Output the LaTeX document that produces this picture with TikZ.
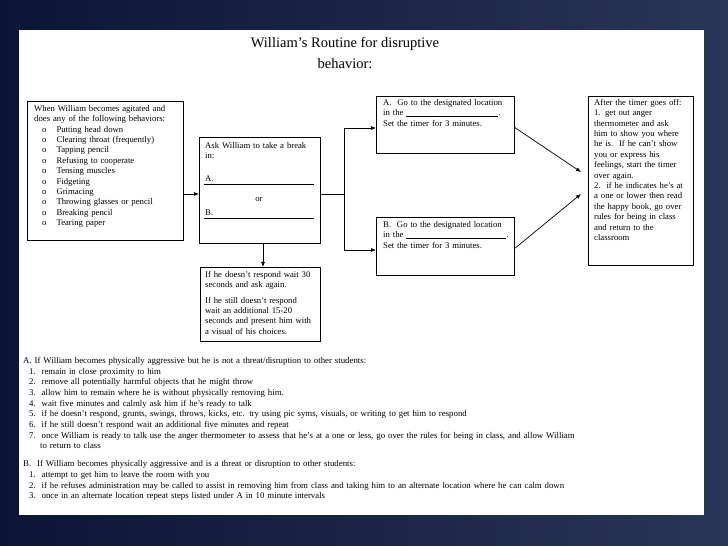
\documentclass[tikz,border=0pt]{standalone}
\usepackage{fontspec}
\setmainfont{Liberation Serif}
\usetikzlibrary{arrows.meta}
\definecolor{bgA}{HTML}{0B1535}
\definecolor{bgB}{HTML}{2A3656}
\begin{document}
\begin{tikzpicture}[x=1pt,y=1pt,
  box/.style={draw,line width=0.8pt,anchor=north west,inner sep=0pt},
  txt/.style={anchor=north west,inner sep=0pt,align=left,font=\fontsize{8.7}{10.4}\selectfont},
  arr/.style={-{Latex[length=5pt,width=4pt]},line width=0.7pt}]
\useasboundingbox (0,0) rectangle (728,546);
\shade[left color=bgA,right color=bgB] (0,0) rectangle (728,546);
\fill[white] (19,31) rectangle (704,516);
\node[font=\fontsize{14.5}{21}\selectfont,align=center] (title) at (345,493) {William’s Routine for disruptive\\behavior:};
% left box
\node[box,minimum width=156,minimum height=139] (L) at (27,445) {};
\node[txt,text width=152] (Lt) at (34,441) {When William becomes agitated and\\does any of the following behaviors:\\
\hspace*{8pt}o\hspace{10pt}Putting head down\\
\hspace*{8pt}o\hspace{10pt}Clearing throat (frequently)\\
\hspace*{8pt}o\hspace{10pt}Tapping pencil\\
\hspace*{8pt}o\hspace{10pt}Refusing to cooperate\\
\hspace*{8pt}o\hspace{10pt}Tensing muscles\\
\hspace*{8pt}o\hspace{10pt}Fidgeting\\
\hspace*{8pt}o\hspace{10pt}Grimacing\\
\hspace*{8pt}o\hspace{10pt}Throwing glasses or pencil\\
\hspace*{8pt}o\hspace{10pt}Breaking pencil\\
\hspace*{8pt}o\hspace{10pt}Tearing paper};
% ask box
\node[box,minimum width=121,minimum height=106] (K) at (199,409) {};
\node[txt,text width=114] (Kt) at (205,404) {Ask William to take a break\\in:};
\node[txt] (Ka) at (205,370) {A.};
\node[txt] (Kb) at (205,336) {B.};
\node[font=\fontsize{8.7}{10}\selectfont] (Kor) at (259,347) {or};
\coordinate (la1) at (204,362); \coordinate (la2) at (314,362);
\coordinate (lb1) at (204,328); \coordinate (lb2) at (314,328);
\draw[line width=0.6pt] (la1) -- (la2);
\draw[line width=0.6pt] (lb1) -- (lb2);
% wait box
\node[box,minimum width=120,minimum height=74] (W) at (200,279) {};
\node[txt,text width=117] (Wt) at (205,275) {If he doesn’t respond wait 30\\seconds and ask again.\\[5pt]If he still doesn’t respond\\wait an additional 15-20\\seconds and present him with\\a visual of his choices.};
% A, B boxes
\node[box,minimum width=138,minimum height=57] (A) at (376,450) {};
\node[txt,text width=134] (At) at (383,447) {A.\ \ Go to the designated location\\in the \rule[-1pt]{92pt}{0.4pt}.\\Set the timer for 3 minutes.};
\node[box,minimum width=138,minimum height=58] (B) at (376,329) {};
\node[txt,text width=134] (Bt) at (383,325) {B.\ \ Go to the designated location\\in the \rule[-1pt]{100pt}{0.4pt}.\\Set the timer for 3 minutes.};
% after box
\node[box,minimum width=105,minimum height=169] (T) at (588,450) {};
\node[txt,text width=102] (Tt) at (594,447) {After the timer goes off:\\1. get out anger\\thermometer and ask\\him to show you where\\he is.\ \ If he can’t show\\you or express his\\feelings, start the timer\\over again.\\2.\ \ if he indicates he’s at\\a one or lower then read\\the happy book, go over\\rules for being in class\\and return to the\\classroom};
% connectors
\coordinate (sp) at (344,352);
\draw[arr] (L.east |- 0,352) -- (K.west |- 0,352);
\draw[line width=0.7pt] (K.east |- sp) -- (sp);
\draw[arr] (sp) |- (A.west |- 0,418);
\draw[arr] (sp) |- (B.west |- 0,296);
\draw[arr] (K.south -| 263,0) -- (W.north -| 263,0);
\draw[arr] (514,419) -- (581,374);
\draw[arr] (514,297) -- (581,352);
% bottom text
\node[txt,font=\fontsize{8.8}{10.7}\selectfont,text width=680] (P) at (23,189) {A. If William becomes physically aggressive but he is not a threat/disruption to other students:\\
\hspace*{6pt}1.\ \ remain in close proximity to him\\
\hspace*{6pt}2.\ \ remove all potentially harmful objects that he might throw\\
\hspace*{6pt}3.\ \ allow him to remain where he is without physically removing him.\\
\hspace*{6pt}4.\ \ wait five minutes and calmly ask him if he’s ready to talk\\
\hspace*{6pt}5.\ \ if he doesn’t respond, grunts, swings, throws, kicks, etc. try using pic syms, visuals, or writing to get him to respond\\
\hspace*{6pt}6.\ \ if he still doesn’t respond wait an additional five minutes and repeat\\
\hspace*{6pt}7.\ \ once William is ready to talk use the anger thermometer to assess that he’s at a one or less, go over the rules for being in class, and allow William\\
\hspace*{17pt}to return to class\\[7pt]
B.\ \ If William becomes physically aggressive and is a threat or disruption to other students:\\
\hspace*{6pt}1.\ \ attempt to get him to leave the room with you\\
\hspace*{6pt}2.\ \ if he refuses administration may be called to assist in removing him from class and taking him to an alternate location where he can calm down\\
\hspace*{6pt}3.\ \ once in an alternate location repeat steps listed under A in 10 minute intervals};
\end{tikzpicture}
\end{document}
